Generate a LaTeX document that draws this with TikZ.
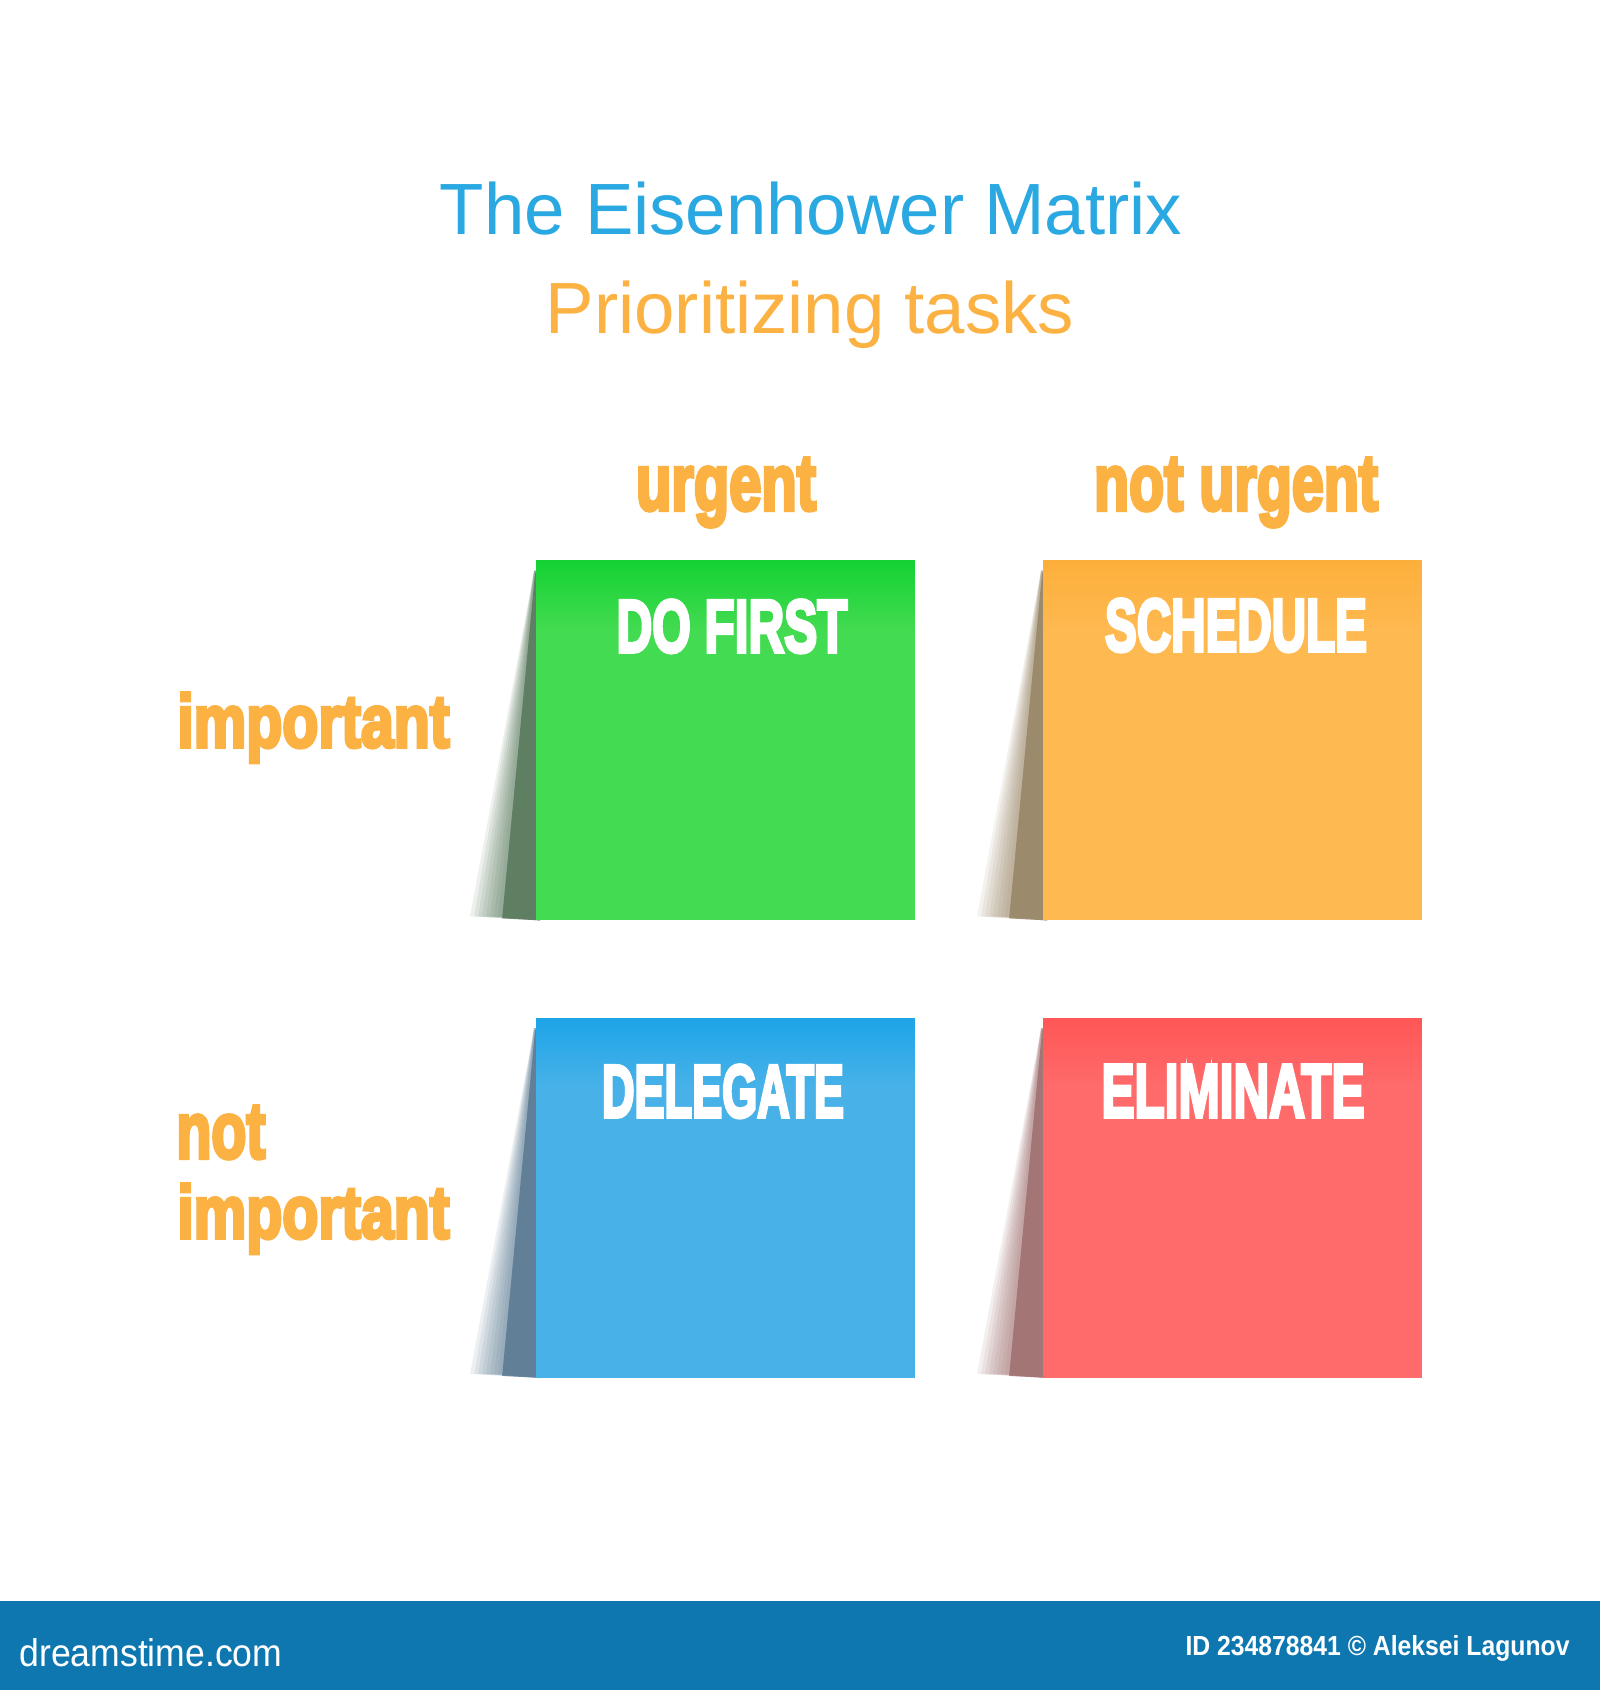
\documentclass[tikz,border=0pt]{standalone}
\usepackage{fontspec}
\usepackage{graphicx}
\setmainfont{Liberation Sans}
\newfontfamily\heavyfont[FakeBold=5]{Liberation Sans}
\usepackage{tikz}

\definecolor{titleblue}{HTML}{29A8E1}
\definecolor{labelorange}{HTML}{FBB243}
\definecolor{greentop}{HTML}{14D233}
\definecolor{greenbody}{HTML}{43DB51}
\definecolor{greenshadow}{HTML}{4F7453}
\definecolor{orangetop}{HTML}{FDAF3B}
\definecolor{orangebody}{HTML}{FEB950}
\definecolor{orangeshadow}{HTML}{94805E}
\definecolor{bluetop}{HTML}{1EA4E8}
\definecolor{bluebody}{HTML}{48B2E8}
\definecolor{blueshadow}{HTML}{52758F}
\definecolor{redtop}{HTML}{FF5656}
\definecolor{redbody}{HTML}{FF6B6B}
\definecolor{redshadow}{HTML}{9C6868}
\definecolor{barblue}{HTML}{0F77B0}

% squeeze a word to a given width and height
\newcommand{\squeezetext}[3]{\resizebox{#1}{#2}{#3}}

\tikzset{
  note/.style={minimum width=189pt, minimum height=179.5pt,
    inner sep=0pt, draw=none},
  notetext/.style={anchor=base, inner sep=0pt, text=white,
    font=\heavyfont\bfseries},
  axislabel/.style={inner sep=0pt, text=labelorange,
    font=\heavyfont\bfseries},
}

\begin{document}
\begin{tikzpicture}[x=0.5pt, y=-0.5pt]
    \useasboundingbox (0,0) rectangle (1600,1690);
    \fill[white] (0,0) rectangle (1600,1690);
    % Title
    \node[anchor=base, text=titleblue,
      font=\fontsize{36.3}{40}\selectfont] (title) at (811,235)
      {The Eisenhower Matrix};
    \node[anchor=base, text=labelorange,
      font=\fontsize{36.3}{40}\selectfont] (subtitle) at (810,334)
      {Prioritizing tasks};
    % Column labels
    \node[axislabel, anchor=base] (urgent) at (726,510)
      {\squeezetext{90pt}{26pt}{urgent}};
    \node[axislabel, anchor=base] (noturgent) at (1236,510)
      {\squeezetext{142pt}{26pt}{not urgent}};
    % Row labels
    \node[axislabel, anchor=base west] (important) at (177,747)
      {\squeezetext{136pt}{27pt}{important}};
    \node[axislabel, anchor=base west] (notword) at (176,1158)
      {\squeezetext{44.5pt}{26pt}{not}};
    \node[axislabel, anchor=base west] (notimportant) at (177,1238)
      {\squeezetext{136pt}{27pt}{important}};
    % Notes (placed first, painted later)
    \path (725.5,740.5) node[note] (dofirst) {}
          (1232.5,740.5) node[note] (schedule) {}
          (725.5,1198) node[note] (delegate) {}
          (1232.5,1198) node[note] (eliminate) {};
    % Shadows, a dark core and soft layers
    \foreach \n/\c in {dofirst/greenshadow, schedule/orangeshadow,
        delegate/blueshadow, eliminate/redshadow} {
      \fill[\c, opacity=0.75] ([shift={(-1,12)}]\n.north west)
        -- ([shift={(-34,-2)}]\n.south west) -- ([shift={(4,0)}]\n.south west)
        -- ([shift={(4,12)}]\n.north west) -- cycle;
      \foreach \w in {38,42,...,66}
        \fill[\c, opacity=0.1] ([shift={(-2,10)}]\n.north west)
          -- ([shift={(-\w,-4)}]\n.south west) -- ([shift={(4,0)}]\n.south west)
          -- ([shift={(4,10)}]\n.north west) -- cycle;
    }
    \fill[greenbody] (dofirst.north west) rectangle (dofirst.south east);
    \fill[orangebody] (schedule.north west) rectangle (schedule.south east);
    \fill[bluebody] (delegate.north west) rectangle (delegate.south east);
    \fill[redbody] (eliminate.north west) rectangle (eliminate.south east);
    % Top bands
    \shade[top color=greentop, bottom color=greenbody]
      (dofirst.north west) rectangle ([shift={(0,70)}]dofirst.north east);
    \shade[top color=orangetop, bottom color=orangebody]
      (schedule.north west) rectangle ([shift={(0,70)}]schedule.north east);
    \shade[top color=bluetop, bottom color=bluebody]
      (delegate.north west) rectangle ([shift={(0,70)}]delegate.north east);
    \shade[top color=redtop, bottom color=redbody]
      (eliminate.north west) rectangle ([shift={(0,70)}]eliminate.north east);
    % Note texts
    \node[notetext] (dofirsttext) at (732,652)
      {\squeezetext{115.5pt}{26pt}{DO FIRST}};
    \node[notetext] (scheduletext) at (1236,651)
      {\squeezetext{131pt}{26pt}{SCHEDULE}};
    \node[notetext] (delegatetext) at (723,1117)
      {\squeezetext{121pt}{26pt}{DELEGATE}};
    \node[notetext] (eliminatetext) at (1233,1117)
      {\squeezetext{131.5pt}{26pt}{ELIMINATE}};
    % Bottom bar
    \fill[barblue] (0,1601) rectangle (1600,1690);
    \node[anchor=base west, inner sep=0pt, text=white] (brand) at (19,1666)
      {\squeezetext{131.5pt}{14pt}{dreamstime.com}};
    \node[anchor=base east, inner sep=0pt, text=white, font=\bfseries]
      (credit) at (1570,1655)
      {\squeezetext{192pt}{10pt}{ID 234878841 © Aleksei Lagunov}};
  \end{tikzpicture}
\end{document}
